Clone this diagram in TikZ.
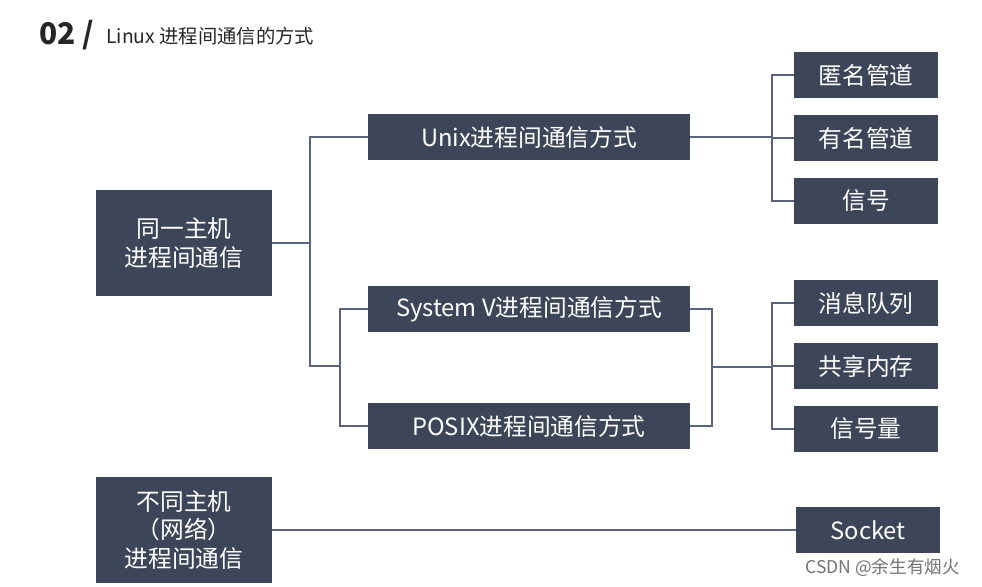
\documentclass[tikz,border=0pt]{standalone}
\usepackage{fontspec}
\setmainfont{Noto Sans CJK SC}
\usetikzlibrary{positioning}
\definecolor{boxblue}{HTML}{3D4659}
\definecolor{lineblue}{HTML}{5A6480}
\tikzstyle{box} = [rectangle, fill=boxblue, text=white, inner sep=0pt, align=center, font=\fontsize{13.5}{16}\selectfont]
\tikzstyle{leaf} = [box, minimum width=2.88cm, minimum height=0.92cm]
\tikzstyle{mid} = [box, minimum width=6.44cm, minimum height=0.93cm]
\tikzstyle{host} = [box, minimum width=3.52cm, minimum height=2.12cm]
\tikzstyle{link} = [draw=lineblue, line width=1.6pt]
\begin{document}
\begin{tikzpicture}[x=0.02cm, y=-0.02cm]
				\useasboundingbox (0,0) rectangle (982,587);
				% title
				\node (num) [anchor=west, font=\fontsize{17}{20}\selectfont\bfseries, text=black!85] at (33,35) {02 /};
				\node (title) [anchor=west, font=\fontsize{11}{13}\selectfont, text=black!85] at (100,36) {Linux 进程间通信的方式};
				% hosts
				\node (same) [host] at (184,243) {同一主机\\进程间通信};
				\node (diff) [host] at (184,530) {不同主机\\（网络）\\进程间通信};
				% middle level
				\node (unix) [mid] at (529,137) {Unix进程间通信方式};
				\node (sysv) [mid] at (529,309) {System V进程间通信方式};
				\node (posix) [mid] at (529,426) {POSIX进程间通信方式};
				% leaves
				\node (anon) [leaf] at (866,75) {匿名管道};
				\node (named) [leaf] at (866,138) {有名管道};
				\node (sig) [leaf] at (866,201) {信号};
				\node (msg) [leaf] at (866,303) {消息队列};
				\node (shm) [leaf] at (866,366) {共享内存};
				\node (sem) [leaf] at (866,429) {信号量};
				\node (sock) [leaf] at (868,530) {Socket};
				\node (mark) [anchor=east, font=\fontsize{10}{12}\selectfont, text=black!55] at (966,568) {CSDN @余生有烟火};
				
				\coordinate (j1) at (310,243);
				\coordinate (j2) at (340,366);
				\coordinate (j3) at (712,367);
				\coordinate (j4) at (772,137);
				\coordinate (j5) at (772,367);
				
				\draw [link] (same.east) -- (j1);
				\draw [link] (j1) |- (unix.west);
				\draw [link] (j1) |- (j2);
				\draw [link] (j2) |- (sysv.west);
				\draw [link] (j2) |- (posix.west);
				\draw [link] (sysv.east) -| (j3);
				\draw [link] (posix.east) -| (j3);
				\draw [link] (j3) -- (j5);
				\draw [link] (unix.east) -- (j4);
				\draw [link] (j4) |- (anon.west);
				\draw [link] (j4) |- (named.west);
				\draw [link] (j4) |- (sig.west);
				\draw [link] (j5) |- (msg.west);
				\draw [link] (j5) |- (shm.west);
				\draw [link] (j5) |- (sem.west);
				\draw [link] (diff.east) -- (sock.west);
		\end{tikzpicture}
\end{document}
